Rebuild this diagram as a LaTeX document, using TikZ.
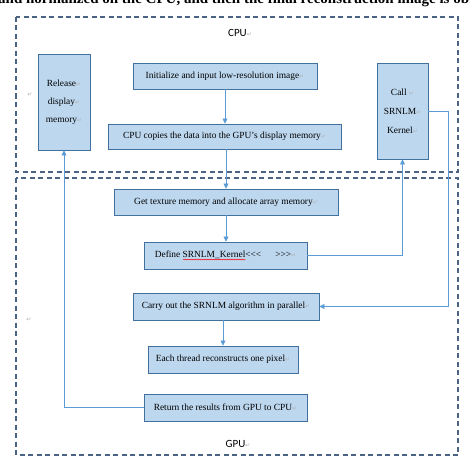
\documentclass[tikz,border=0pt]{standalone}
\usepackage{fontspec}
\setmainfont{Liberation Serif}
\newfontfamily\regionfont{Carlito}
\newfontfamily\markfont{DejaVu Sans}
\usetikzlibrary{arrows.meta,positioning,calc,decorations.pathmorphing}

\definecolor{boxfill}{RGB}{189,215,238}
\definecolor{boxline}{RGB}{65,113,156}
\definecolor{arrowblue}{RGB}{91,155,213}
\definecolor{dashblue}{RGB}{75,100,132}
\newcommand{\retmark}{{\markfont\fontsize{6}{6}\selectfont\color{gray!60}↵}}
\newlength{\wavywd}
\newcommand{\wavyul}[1]{\settowidth{\wavywd}{#1}\makebox[0pt][l]{\tikz[baseline=0pt]\draw[red, line width=0.4pt, decorate, decoration={snake,amplitude=0.4pt,segment length=2pt}] (0pt,-2pt) -- (\wavywd,-2pt);}#1}

\begin{document}
\begin{tikzpicture}[x=1pt,y=-1pt,
    procbox/.style={draw=boxline, fill=boxfill, line width=0.9pt, inner sep=2pt, font=\fontsize{9.4}{11}\selectfont},
    flowarr/.style={draw=arrowblue, line width=0.7pt, -{Triangle[length=5pt,width=5pt]}},
    regionbox/.style={draw=dashblue, line width=1.3pt, dash pattern=on 5pt off 3.5pt}]
    \useasboundingbox (0,0) rectangle (474,460);
    \clip (0,0) rectangle (474,460);
    \fill[white] (0,0) rectangle (474,460);
    % cut-off caption line above the figure
    \node[anchor=base west, inner sep=0, font=\bfseries\fontsize{15}{15}\selectfont] (cap) at (-2,4) {and normalized on the CPU, and then the final reconstruction image is ob};
    % CPU and GPU regions
    \draw[regionbox] (16,17) rectangle (458,172);
    \draw[regionbox] (16,178) rectangle (458,455);
    \node[font=\regionfont\fontsize{11}{11}\selectfont] (cpulbl) at (240,33) {CPU\retmark};
    \node[font=\regionfont\fontsize{11}{11}\selectfont] (gpulbl) at (238,444) {GPU\retmark};
    \node (mark1) at (30,95) {\retmark};
    \node (mark2) at (29,320) {\retmark};
    % CPU side
    \node[procbox, minimum width=52, minimum height=96, align=center] (rel) at (64,102) {Release\retmark\\[7pt]display\retmark\\[7pt]memory\retmark};
    \node[procbox, minimum width=184, minimum height=26] (init) at (225,76) {Initialize and input low-resolution image\retmark};
    \node[procbox, minimum width=233, minimum height=25] (copy) at (224.5,136.5) {CPU copies the data into the GPU's display memory\retmark};
    \node[procbox, minimum width=51, minimum height=96, align=center] (call) at (402.5,111) {Call \retmark\\[8pt]SRNLM\retmark\\[8pt]Kernel\retmark};
    % GPU side
    \node[procbox, minimum width=224, minimum height=26] (tex) at (226,202) {Get texture memory and allocate array memory\retmark};
    \node[procbox, minimum width=163, minimum height=27] (def) at (225.5,255.5) {Define \wavyul{SRNLM\_Kernel}<{}<{}<\hspace{14pt}>{}>{}>\retmark};
    \node[procbox, minimum width=186, minimum height=27] (carry) at (226,306.5) {Carry out the SRNLM algorithm in parallel\retmark};
    \node[procbox, minimum width=150, minimum height=27] (each) at (223,359.5) {Each thread reconstructs one pixel\retmark};
    \node[procbox, minimum width=163, minimum height=27] (ret) at (225.5,407.5) {Return the results from GPU to CPU\retmark};
    % connectors
    \draw[flowarr] (init.south) -- (init.south |- copy.north);
    \draw[flowarr] (copy.south -| tex.north) -- (tex.north);
    \draw[flowarr] (tex.south) -- (tex.south |- def.north);
    \draw[flowarr] (def.east) -| (call.south);
    \draw[flowarr] (call.east) -- ++(20,0) |- (carry.east);
    \draw[flowarr] (carry.south -| each.north) -- (each.north);
    \draw[flowarr] (ret.west) -| (rel.south);
\end{tikzpicture}
\end{document}
